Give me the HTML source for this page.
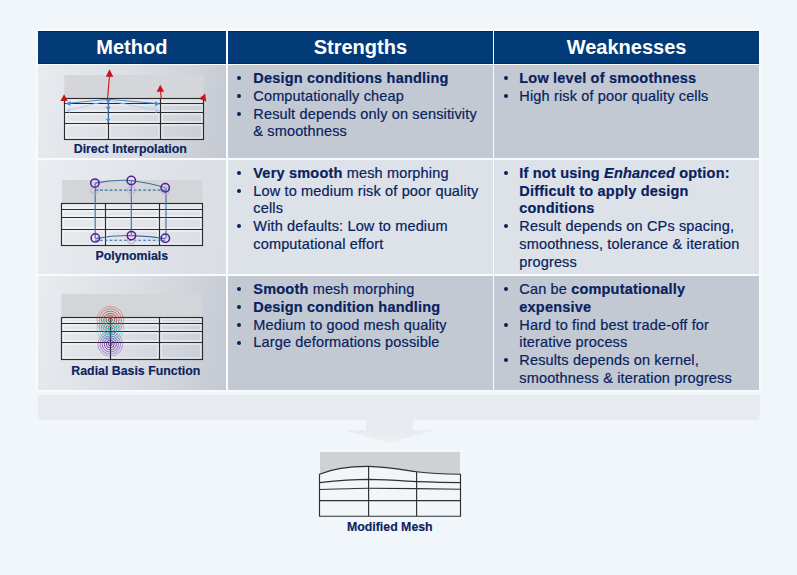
<!DOCTYPE html>
<html><head><meta charset="utf-8">
<style>
html,body{margin:0;padding:0;}
body{width:797px;height:575px;overflow:hidden;background:#f1f6fa;position:relative;font-family:"Liberation Sans",sans-serif;}
.abs{position:absolute;}
.hdr{position:absolute;top:30.5px;height:33.2px;background:#033b78;box-shadow:inset 0 1px 0 #022a5c, inset 0 -1px 0 #022a5c;color:#fff;font-weight:bold;font-size:20px;text-align:center;line-height:33px;}
.cell{position:absolute;}
.r1{top:65px;height:92.7px;}
.r2{top:160px;height:113.9px;}
.r3{top:276.3px;height:113.7px;}
.dark{background:#c3c9d3;}
.light{background:#dde1e8;}
.meth{background:linear-gradient(100deg,#e8ebef 0%,#dadde3 50%,#c4c9d2 100%);}
.meth2{background:linear-gradient(100deg,#e9ecf0 0%,#e1e4e9 50%,#d9dde4 100%);}
.txt{position:absolute;font-size:14.5px;letter-spacing:0.15px;line-height:17.8px;color:#08225e;white-space:nowrap;-webkit-text-stroke:0.2px #08225e;}
.txt p{margin:0;position:relative;}
.txt p:before{content:"";position:absolute;left:-16.7px;top:6.2px;width:4px;height:4px;border-radius:50%;background:#08225e;}
.w p:before{left:-15.3px;}
b{font-weight:bold;letter-spacing:0.2px;}
.lbl{position:absolute;font-size:12.35px;font-weight:bold;color:#0b2362;-webkit-text-stroke:0.15px #0b2362;white-space:nowrap;transform:translateX(-50%);line-height:14px;}
</style></head>
<body>
<div class="abs" style="left:36px;top:29.2px;width:725px;height:362.5px;background:#f8fafc;"></div>
<!-- header -->
<div class="hdr" style="left:37.5px;width:188.6px;">Method</div>
<div class="hdr" style="left:228px;width:264.7px;">Strengths</div>
<div class="hdr" style="left:494px;width:265.1px;">Weaknesses</div>

<!-- rows -->
<div class="cell r1 meth" style="left:37.5px;width:188.6px;"></div>
<div class="cell r1 dark" style="left:228px;width:264.7px;"></div>
<div class="cell r1 dark" style="left:494px;width:265.1px;"></div>

<div class="cell r2 meth2" style="left:37.5px;width:188.6px;"></div>
<div class="cell r2 light" style="left:228px;width:264.7px;"></div>
<div class="cell r2 light" style="left:494px;width:265.1px;"></div>

<div class="cell r3 meth" style="left:37.5px;width:188.6px;"></div>
<div class="cell r3 dark" style="left:228px;width:264.7px;"></div>
<div class="cell r3 dark" style="left:494px;width:265.1px;"></div>

<!-- band -->
<div class="abs" style="left:38px;top:395px;width:721.5px;height:24.7px;background:#e7eaee;border-radius:0 0 5px 5px;"></div>

<!-- texts -->
<div class="txt" style="left:253.3px;top:70px;">
<p><b>Design conditions handling</b></p>
<p>Computationally cheap</p>
<p>Result depends only on sensitivity<br>&amp; smoothness</p>
</div>
<div class="txt w" style="left:519.3px;top:70px;">
<p><b>Low level of smoothness</b></p>
<p>High risk of poor quality cells</p>
</div>

<div class="txt" style="left:253.3px;top:164.8px;">
<p><b>Very smooth</b> mesh morphing</p>
<p>Low to medium risk of poor quality<br>cells</p>
<p>With defaults: Low to medium<br>computational effort</p>
</div>
<div class="txt w" style="left:519.3px;top:164.8px;">
<p><b>If not using <i>Enhanced</i> option:<br>Difficult to apply design<br>conditions</b></p>
<p>Result depends on CPs spacing,<br>smoothness, tolerance &amp; iteration<br>progress</p>
</div>

<div class="txt" style="left:253.3px;top:281px;">
<p><b>Smooth</b> mesh morphing</p>
<p><b>Design condition handling</b></p>
<p>Medium to good mesh quality</p>
<p>Large deformations possible</p>
</div>
<div class="txt w" style="left:519.3px;top:281px;">
<p>Can be <b>computationally<br>expensive</b></p>
<p>Hard to find best trade-off for<br>iterative process</p>
<p>Results depends on kernel,<br>smoothness &amp; iteration progress</p>
</div>

<!-- labels -->
<div class="lbl" style="left:130.3px;top:142px;">Direct Interpolation</div>
<div class="lbl" style="left:131.8px;top:249px;">Polynomials</div>
<div class="lbl" style="left:135.8px;top:364px;">Radial Basis Function</div>
<div class="lbl" style="left:389.8px;top:520px;">Modified Mesh</div>

<!-- graphics -->
<svg class="abs" style="left:0;top:0" width="797" height="575" viewBox="0 0 797 575">
  <!-- arrow -->
  <defs><linearGradient id="ag" x1="0" y1="0" x2="0" y2="1"><stop offset="0" stop-color="#e7eaee"/><stop offset="0.5" stop-color="#e8ebef"/><stop offset="1" stop-color="#ecf0f3"/></linearGradient></defs><polygon points="366,419 413,419 413,430 435,430 389.5,443 344,430 366,430" fill="url(#ag)"/>

  <!-- Direct interpolation -->
  <rect x="64.3" y="75" width="139.2" height="23.5" fill="#d4d6d9"/>
  <g fill="none" stroke="#ffffff" stroke-opacity="0.75" stroke-width="1">
  <rect x="66.0" y="100.0" width="41.0" height="2.0"/>
  <rect x="110.0" y="100.0" width="49.0" height="2.0"/>
  <rect x="162.0" y="100.0" width="40.0" height="2.0"/>
  <rect x="66.0" y="105.0" width="41.0" height="6.0"/>
  <rect x="110.0" y="105.0" width="49.0" height="6.0"/>
  <rect x="162.0" y="105.0" width="40.0" height="6.0"/>
  <rect x="66.0" y="114.0" width="41.0" height="8.0"/>
  <rect x="110.0" y="114.0" width="49.0" height="8.0"/>
  <rect x="162.0" y="114.0" width="40.0" height="8.0"/>
  <rect x="66.0" y="125.0" width="41.0" height="13.0"/>
  <rect x="110.0" y="125.0" width="49.0" height="13.0"/>
  <rect x="162.0" y="125.0" width="40.0" height="13.0"/>
  </g>
  <g fill="none" stroke="#2c2c2c" stroke-width="1.15">
  <rect x="64.5" y="98.5" width="139.0" height="41.0"/>
  <line x1="64.5" y1="103.5" x2="203.5" y2="103.5"/>
  <line x1="64.5" y1="112.5" x2="203.5" y2="112.5"/>
  <line x1="64.5" y1="123.5" x2="203.5" y2="123.5"/>
  <line x1="108.5" y1="98.5" x2="108.5" y2="139.5"/>
  <line x1="160.5" y1="98.5" x2="160.5" y2="139.5"/>
  </g>

  <!-- DI arrows -->
  <g stroke="#3d8fe6" stroke-width="1" fill="none">
    <polyline points="67.5,103.3 108.2,99.3 158.4,103.6"/>
  </g>
  <g stroke="#a9cdf2" stroke-width="0.9" fill="none">
    <polyline points="67,110.6 108.2,100.5 158.4,110.8"/>
  </g>
  <g fill="#3d8fe6">
    <polygon points="65.5,103.5 70.5,101 70.5,106"/>
    <polygon points="160,103.8 155,101.3 155,106.3"/>
    <polygon points="108.2,103.3 105.5,99.5 111,99.5"/>
    <polygon points="108.2,110.6 105.5,106.8 111,106.8"/>
    <polygon points="108.2,122.3 105.8,118.8 110.6,118.8"/>
  </g>
  <g fill="#a9cdf2">
    <polygon points="66,110.6 70,108.5 70,112.7"/>
    <polygon points="159.5,110.8 155.5,108.7 155.5,112.9"/>
  </g>
  <line x1="108.2" y1="99.3" x2="108.2" y2="122" stroke="#3d8fe6" stroke-width="0.9"/>
  <g stroke="#c4161c" stroke-width="1.1">
    <line x1="107.6" y1="98.3" x2="109.5" y2="75.5"/>
    <line x1="161.2" y1="98.5" x2="160.5" y2="91"/>
  </g>
  <g fill="#c4161c">
    <polygon points="109.5,69.3 105.8,76.8 113.3,76.8"/>
    <polygon points="160.3,84.8 156.6,91.8 164.1,91.8"/>
    <polygon points="64.1,94.2 60.4,100.9 67.8,100.9"/>
    <polygon points="205.2,93.6 199,98.8 206.2,101.6"/>
  </g>

  <!-- Polynomials -->
  <rect x="62" y="180" width="140.5" height="23.5" fill="#d3d5d9"/>
  <g fill="none" stroke="#ffffff" stroke-opacity="0.75" stroke-width="1">
  <rect x="63.0" y="205.0" width="41.0" height="3.0"/>
  <rect x="107.0" y="205.0" width="51.0" height="3.0"/>
  <rect x="161.0" y="205.0" width="40.0" height="3.0"/>
  <rect x="63.0" y="211.0" width="41.0" height="5.0"/>
  <rect x="107.0" y="211.0" width="51.0" height="5.0"/>
  <rect x="161.0" y="211.0" width="40.0" height="5.0"/>
  <rect x="63.0" y="219.0" width="41.0" height="9.0"/>
  <rect x="107.0" y="219.0" width="51.0" height="9.0"/>
  <rect x="161.0" y="219.0" width="40.0" height="9.0"/>
  <rect x="63.0" y="231.0" width="41.0" height="13.0"/>
  <rect x="107.0" y="231.0" width="51.0" height="13.0"/>
  <rect x="161.0" y="231.0" width="40.0" height="13.0"/>
  </g>
  <g fill="none" stroke="#2c2c2c" stroke-width="1.15">
  <rect x="61.5" y="203.5" width="141.0" height="42.0"/>
  <line x1="61.5" y1="209.5" x2="202.5" y2="209.5"/>
  <line x1="61.5" y1="217.5" x2="202.5" y2="217.5"/>
  <line x1="61.5" y1="229.5" x2="202.5" y2="229.5"/>
  <line x1="105.5" y1="203.5" x2="105.5" y2="245.5"/>
  <line x1="159.5" y1="203.5" x2="159.5" y2="245.5"/>
  </g>

  <!-- RBF -->
  <rect x="61.5" y="294" width="140.5" height="23.5" fill="#d3d5d9"/>
  <g fill="none" stroke="#ffffff" stroke-opacity="0.75" stroke-width="1">
  <rect x="63.0" y="319.0" width="46.0" height="3.0"/>
  <rect x="112.0" y="319.0" width="46.0" height="3.0"/>
  <rect x="161.0" y="319.0" width="40.0" height="3.0"/>
  <rect x="63.0" y="325.0" width="46.0" height="5.0"/>
  <rect x="112.0" y="325.0" width="46.0" height="5.0"/>
  <rect x="161.0" y="325.0" width="40.0" height="5.0"/>
  <rect x="63.0" y="333.0" width="46.0" height="8.0"/>
  <rect x="112.0" y="333.0" width="46.0" height="8.0"/>
  <rect x="161.0" y="333.0" width="40.0" height="8.0"/>
  <rect x="63.0" y="344.0" width="46.0" height="14.0"/>
  <rect x="112.0" y="344.0" width="46.0" height="14.0"/>
  <rect x="161.0" y="344.0" width="40.0" height="14.0"/>
  </g>
  <g fill="none" stroke="#2c2c2c" stroke-width="1.15">
  <rect x="61.5" y="317.5" width="141.0" height="42.0"/>
  <line x1="61.5" y1="323.5" x2="202.5" y2="323.5"/>
  <line x1="61.5" y1="331.5" x2="202.5" y2="331.5"/>
  <line x1="61.5" y1="342.5" x2="202.5" y2="342.5"/>
  <line x1="110.5" y1="317.5" x2="110.5" y2="359.5"/>
  <line x1="159.5" y1="317.5" x2="159.5" y2="359.5"/>
  </g>

  <!-- Polynomials CPs -->
  <g fill="none" stroke="#3b6ea5" stroke-width="1.1">
    <line x1="95.2" y1="183.1" x2="95.2" y2="237.9"/>
    <line x1="131.3" y1="180.5" x2="131.3" y2="235.6"/>
    <line x1="166" y1="187.8" x2="166" y2="238.3"/>
    <path d="M95.2,183.1 Q113,179.5 131.3,180.5 Q150,183 165.2,187.8"/>
    <path d="M95.2,238.6 Q113,235.2 131.3,235.6 Q150,236.2 165.3,238.6"/>
    <line x1="95.2" y1="190.1" x2="165.2" y2="190.1" stroke-dasharray="2.8 2"/>
    <line x1="95.2" y1="240.3" x2="165.3" y2="240.3" stroke-dasharray="2.8 2"/>
  </g>
  <g fill="none" stroke="#c9a6dc" stroke-width="1">
    <circle cx="94.9" cy="190.1" r="4"/>
    <circle cx="131.3" cy="190.1" r="4"/>
    <circle cx="165.2" cy="190.6" r="4"/>
    <circle cx="131.4" cy="239.9" r="4"/>
  </g>
  <g fill="none" stroke="#5a1a9c" stroke-width="1.5">
    <circle cx="94.9" cy="183.1" r="4.2"/>
    <circle cx="131.3" cy="180.5" r="4.2"/>
    <circle cx="165.2" cy="187.8" r="4.2"/>
    <circle cx="95.3" cy="237.9" r="4.2"/>
    <circle cx="131.4" cy="235.6" r="4.2"/>
    <circle cx="165.3" cy="238.3" r="4.2"/>
  </g>

  <!-- RBF rings -->
  <g fill="none">
    <circle cx="110.3" cy="320.0" r="2.0" stroke="#d62020" stroke-opacity="1.00" stroke-width="1.0"/>
    <circle cx="110.3" cy="320.0" r="4.3" stroke="#d62020" stroke-opacity="0.87" stroke-width="1.0"/>
    <circle cx="110.3" cy="320.0" r="6.6" stroke="#d62020" stroke-opacity="0.74" stroke-width="1.0"/>
    <circle cx="110.3" cy="320.0" r="8.9" stroke="#d62020" stroke-opacity="0.61" stroke-width="1.0"/>
    <circle cx="110.3" cy="320.0" r="11.2" stroke="#d62020" stroke-opacity="0.48" stroke-width="1.0"/>
    <circle cx="110.3" cy="320.0" r="13.5" stroke="#d62020" stroke-opacity="0.35" stroke-width="1.0"/>
    <circle cx="110.3" cy="344.0" r="1.8" stroke="#6020a8" stroke-opacity="1.00" stroke-width="1.0"/>
    <circle cx="110.3" cy="344.0" r="3.9" stroke="#6020a8" stroke-opacity="0.87" stroke-width="1.0"/>
    <circle cx="110.3" cy="344.0" r="6.0" stroke="#6020a8" stroke-opacity="0.74" stroke-width="1.0"/>
    <circle cx="110.3" cy="344.0" r="8.1" stroke="#6020a8" stroke-opacity="0.61" stroke-width="1.0"/>
    <circle cx="110.3" cy="344.0" r="10.2" stroke="#6020a8" stroke-opacity="0.48" stroke-width="1.0"/>
    <circle cx="110.3" cy="344.0" r="12.3" stroke="#6020a8" stroke-opacity="0.35" stroke-width="1.0"/>
    <circle cx="110.3" cy="328.5" r="2.0" stroke="#10b8b8" stroke-opacity="1.00" stroke-width="1.0"/>
    <circle cx="110.3" cy="328.5" r="4.3" stroke="#10b8b8" stroke-opacity="0.87" stroke-width="1.0"/>
    <circle cx="110.3" cy="328.5" r="6.6" stroke="#10b8b8" stroke-opacity="0.74" stroke-width="1.0"/>
    <circle cx="110.3" cy="328.5" r="8.9" stroke="#10b8b8" stroke-opacity="0.61" stroke-width="1.0"/>
    <circle cx="110.3" cy="328.5" r="11.2" stroke="#10b8b8" stroke-opacity="0.48" stroke-width="1.0"/>
    <circle cx="110.3" cy="328.5" r="13.5" stroke="#10b8b8" stroke-opacity="0.35" stroke-width="1.0"/>
  </g>

  <!-- Modified mesh -->
  <rect x="320" y="452" width="140" height="23" fill="#cfd1d4"/>
  <path d="M319.5,474.3 C333,468.5 350,466.3 368.6,466.4 C388,466.8 403,469.8 416.6,471.8 C432,473.8 446,474.2 460.5,474.3 L460.5,516.2 L319.5,516.2 Z" fill="#f1f6fa"/>
  <g fill="none" stroke="#303030" stroke-width="1.15">
    <path d="M319.5,474.3 C333,468.5 350,466.3 368.6,466.4 C388,466.8 403,469.8 416.6,471.8 C432,473.8 446,474.2 460.5,474.3 L460.5,516.2 L319.5,516.2 Z"/>
    <path d="M319.5,482.6 C340,480.5 355,479.5 368.6,479.4 C390,479.8 405,481 416.6,481.6 C435,482.2 450,482.5 460.5,482.6"/>
    <path d="M319.5,489.5 C340,488.8 355,488.3 368.6,488.2 C390,488.3 405,488.5 416.6,488.6 C435,488.9 450,489.1 460.5,489.2"/>
    <line x1="319.5" y1="500.6" x2="460.5" y2="500.6"/>
    <line x1="368.6" y1="466.4" x2="368.6" y2="516.2"/>
    <line x1="416.6" y1="471.8" x2="416.6" y2="516.2"/>
  </g>
</svg>
</body></html>
